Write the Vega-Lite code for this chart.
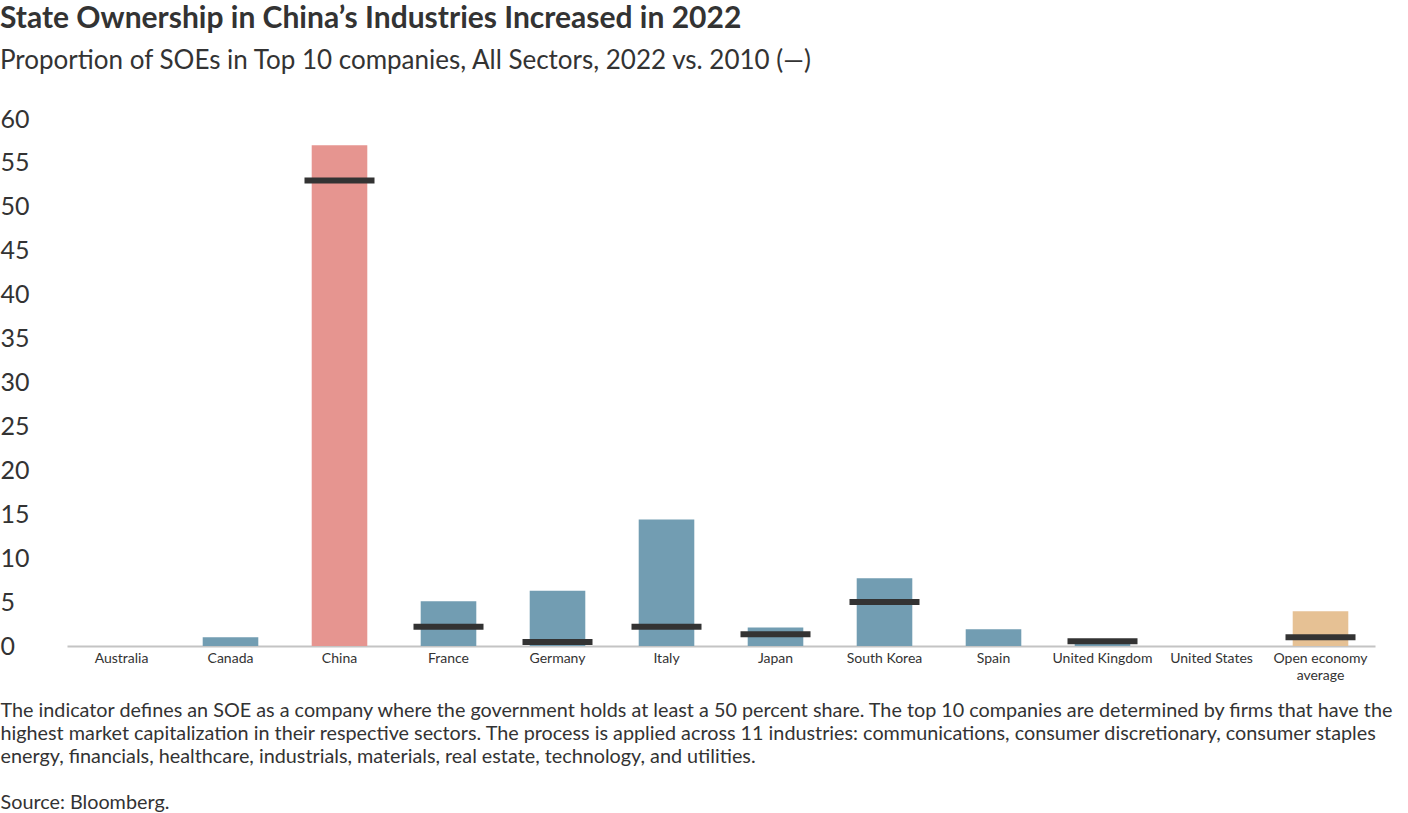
{
  "$schema": "https://vega.github.io/schema/vega-lite/v6.json",
  "width": 1308,
  "height": 527,
  "padding": {"left": 0, "top": 4, "right": 0, "bottom": 0},
  "background": "white",
  "title": {
    "text": "State Ownership in China’s Industries Increased in 2022",
    "subtitle": "Proportion of SOEs in Top 10 companies, All Sectors, 2022 vs. 2010 (—)",
    "anchor": "start",
    "fontSize": 30,
    "fontWeight": "bold",
    "color": "#333333",
    "subtitleFontSize": 26,
    "subtitleColor": "#333333",
    "subtitlePadding": 14,
    "offset": 33
  },
  "data": {
    "values": [
      {"country": "Australia", "y2022": 0, "y2010": null, "group": "other"},
      {"country": "Canada", "y2022": 1.0, "y2010": null, "group": "other"},
      {"country": "China", "y2022": 57.0, "y2010": 53.0, "group": "china"},
      {"country": "France", "y2022": 5.1, "y2010": 2.2, "group": "other"},
      {"country": "Germany", "y2022": 6.3, "y2010": 0.45, "group": "other"},
      {"country": "Italy", "y2022": 14.4, "y2010": 2.2, "group": "other"},
      {"country": "Japan", "y2022": 2.1, "y2010": 1.35, "group": "other"},
      {"country": "South Korea", "y2022": 7.7, "y2010": 5.0, "group": "other"},
      {"country": "Spain", "y2022": 1.9, "y2010": null, "group": "other"},
      {"country": "United Kingdom", "y2022": 0.3, "y2010": 0.55, "group": "other"},
      {"country": "United States", "y2022": 0, "y2010": null, "group": "other"},
      {"country": "Open economy average", "y2022": 3.95, "y2010": 1.0, "group": "average"}
    ]
  },
  "encoding": {
    "x": {
      "field": "country",
      "type": "nominal",
      "sort": null,
      "scale": {"paddingInner": 0.49, "paddingOuter": 0.245},
      "axis": {
        "labelAngle": 0,
        "labelFontSize": 14,
        "labelColor": "#333333",
        "labelPadding": 5,
        "labelLineHeight": 17,
        "labelExpr": "datum.label == 'Open economy average' ? ['Open economy', 'average'] : datum.label",
        "ticks": false,
        "domainColor": "#c4c4c4",
        "domainWidth": 2,
        "title": [
          "The indicator defines an SOE as a company where the government holds at least a 50 percent share. The top 10 companies are determined by firms that have the",
          "highest market capitalization in their respective sectors. The process is applied across 11 industries: communications, consumer discretionary, consumer staples",
          "energy, financials, healthcare, industrials, materials, real estate, technology, and utilities.",
          "\u2800",
          "Source: Bloomberg."
        ],
        "titleAnchor": "start",
        "titleAlign": "left",
        "titleBaseline": "top",
        "titleX": -67,
        "titleY": 54,
        "titleFontSize": 19.8,
        "titleFontWeight": "normal",
        "titleColor": "#333333",
        "titleLineHeight": 23
      }
    }
  },
  "layer": [
    {
      "mark": {"type": "bar"},
      "encoding": {
        "y": {
          "field": "y2022",
          "type": "quantitative",
          "scale": {"domain": [0, 60], "nice": false},
          "axis": {
            "values": [0, 5, 10, 15, 20, 25, 30, 35, 40, 45, 50, 55, 60],
            "labelFontSize": 25,
            "labelColor": "#333333",
            "labelAlign": "left",
            "labelBaseline": "middle",
            "labelPadding": 67,
            "ticks": false,
            "domain": false,
            "grid": false,
            "title": null
          }
        },
        "color": {
          "field": "group",
          "type": "nominal",
          "scale": {"domain": ["other", "china", "average"], "range": ["#729db2", "#e69590", "#e6c194"]},
          "legend": null
        }
      }
    },
    {
      "mark": {"type": "tick", "color": "#333333", "thickness": 6, "size": 70, "opacity": 1},
      "encoding": {
        "y": {"field": "y2010", "type": "quantitative"}
      }
    }
  ],
  "config": {
    "font": "Lato",
    "view": {"stroke": null}
  }
}
